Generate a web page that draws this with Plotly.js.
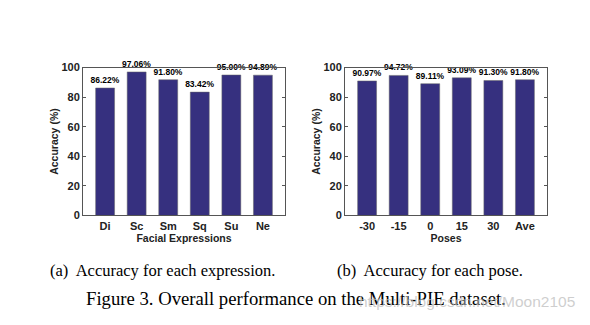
<!DOCTYPE html>
<html><head><meta charset="utf-8">
<script src="https://cdn.plot.ly/plotly-3.0.1.min.js"></script>
<style>body{margin:0;background:#fff}#c{width:590px;height:325px}</style>
</head><body><div id="c"></div>
<script>
const exprCats = ['Di','Sc','Sm','Sq','Su','Ne'];
const exprVals = [86.22, 97.06, 91.80, 83.42, 95.00, 94.89];
const poseCats = ['-30','-15','0','15','30','Ave'];
const poseVals = [90.97, 94.72, 89.11, 93.09, 91.30, 91.80];
const yTicks = [0,20,40,60,80,100];

const barColor = '#36307f';
const lblFont = {family:'Liberation Sans, Arial, sans-serif', size:8.5, color:'#000', weight:'bold'};
function barTrace(cats, vals, xa, ya){
  return {type:'bar', x:cats, y:vals, xaxis:xa, yaxis:ya, width:0.6,
    marker:{color:barColor, line:{color:'#666', width:0.5}},
    text:vals.map(v=>v.toFixed(2)+'%'), textposition:'outside', cliponaxis:false,
    constraintext:'none', textfont:lblFont, hoverinfo:'skip'};
}
const tickFont = {family:'Liberation Sans, Arial, sans-serif', size:11, color:'#222', weight:'bold'};
const titleFont = {family:'Liberation Sans, Arial, sans-serif', size:10.5, color:'#222', weight:'bold'};
function xax(dom, title){
  return {domain:dom, range:[-0.7,5.7], type:'category', showline:true, mirror:true, linecolor:'#555', linewidth:1,
    ticks:'', tickfont:tickFont, title:{text:title, font:titleFont, standoff:2}, fixedrange:true, showgrid:false};
}
function yax(anchor){
  return {domain:[0.337,0.792], range:[0,100], anchor:anchor, tickvals:yTicks, showline:true, mirror:'ticks', linecolor:'#555', linewidth:1,
    ticks:'inside', ticklen:3, tickcolor:'#555', tickfont:tickFont, showgrid:false, zeroline:false,
    title:{text:'Accuracy (%)', font:titleFont, standoff:0}};
}
const serif = {family:'Liberation Serif, Times New Roman, serif', color:'#000'};
const layout = {
  width:590, height:325, margin:{l:0,r:0,t:0,b:0}, showlegend:false, bargap:0.4,
  paper_bgcolor:'#fff', plot_bgcolor:'#fff',
  xaxis: xax([83/590, 285/590], 'Facial Expressions'),
  yaxis: yax('x'),
  xaxis2: Object.assign(xax([345/590, 547/590], 'Poses'), {anchor:'y2'}),
  yaxis2: yax('x2'),
  annotations:[
    {text:'(a)  Accuracy for each expression.', x:163/590, y:1-270/325, xref:'paper', yref:'paper', xanchor:'center', yanchor:'middle', showarrow:false, font:Object.assign({size:16.5},serif)},
    {text:'(b)  Accuracy for each pose.', x:430/590, y:1-270/325, xref:'paper', yref:'paper', xanchor:'center', yanchor:'middle', showarrow:false, font:Object.assign({size:16.5},serif)},
    {text:'Figure 3. Overall performance on the Multi-PIE dataset.', x:296/590, y:1-298/325, xref:'paper', yref:'paper', xanchor:'center', yanchor:'middle', showarrow:false, font:Object.assign({size:18.7},serif)},
    {text:'https://blog.csdn.net/Moon2105', x:357/590, y:1-301/325, xref:'paper', yref:'paper', xanchor:'left', yanchor:'middle', showarrow:false, font:{family:'Liberation Sans, Arial, sans-serif', size:15.5, color:'rgba(190,190,190,0.75)'}}
  ]
};
Plotly.newPlot('c', [barTrace(exprCats, exprVals,'x','y'), barTrace(poseCats, poseVals,'x2','y2')], layout, {displayModeBar:false, staticPlot:true});
</script></body></html>
